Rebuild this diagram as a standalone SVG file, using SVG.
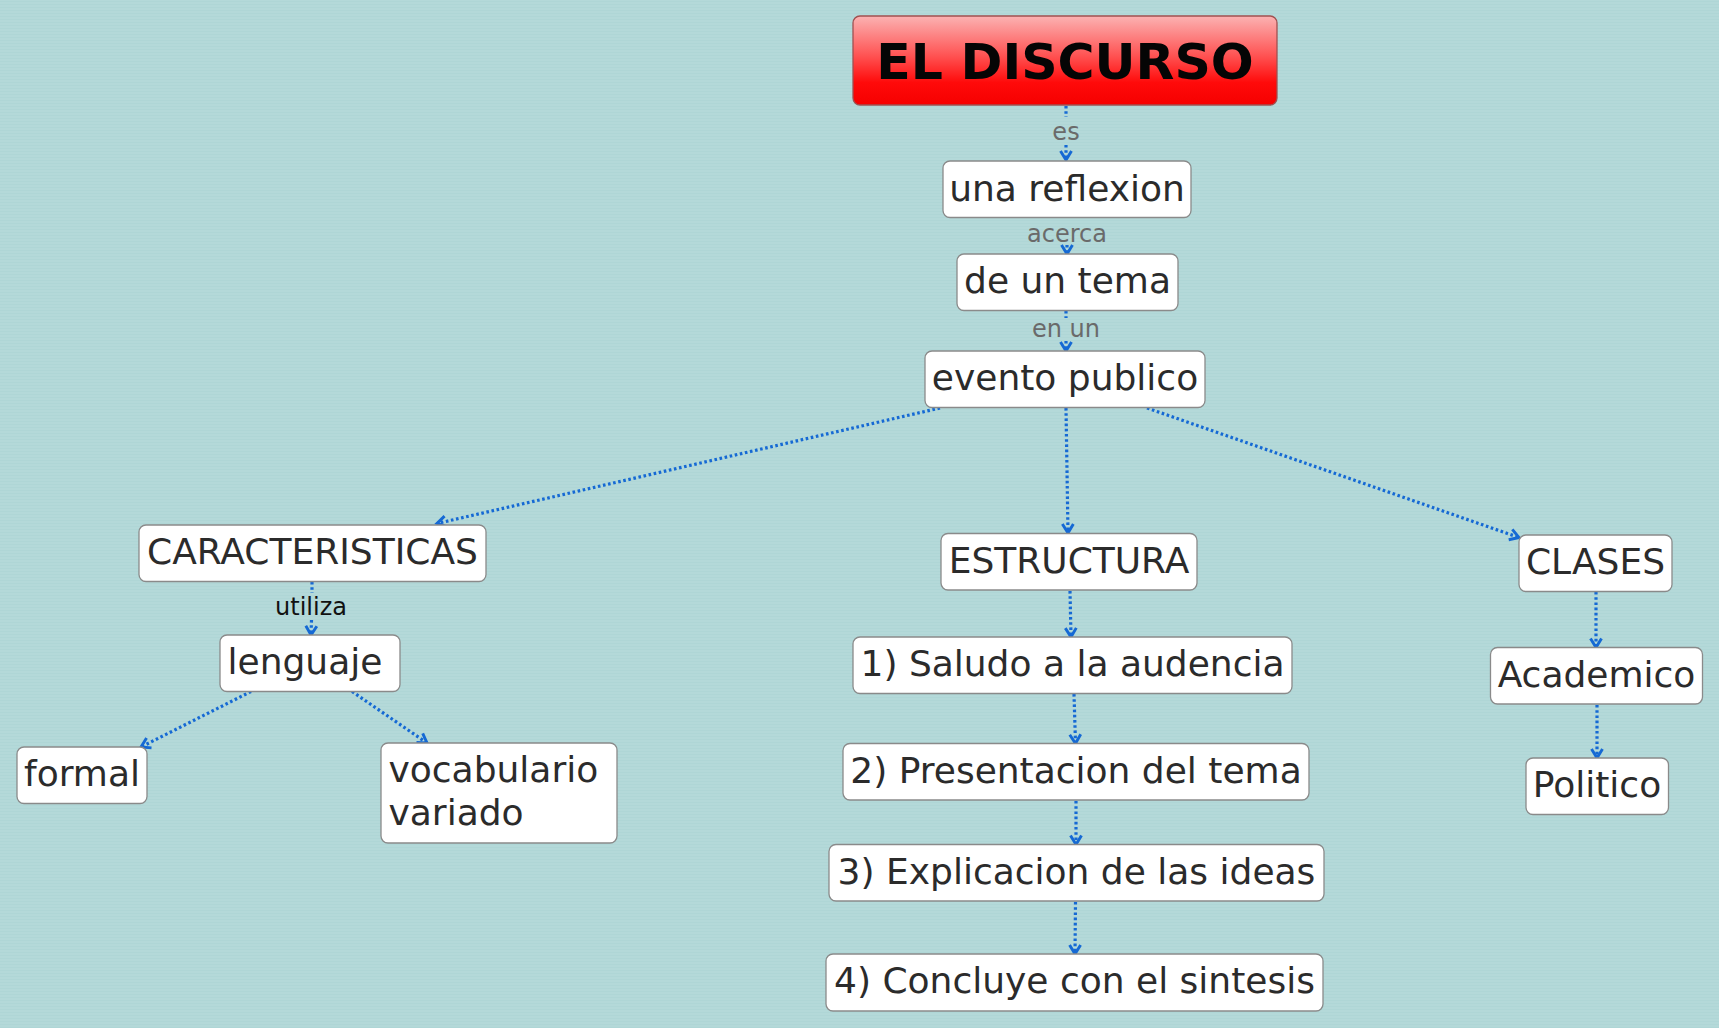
<svg xmlns="http://www.w3.org/2000/svg" width="1719" height="1028" viewBox="0 0 1719 1028">
<defs>
<linearGradient id="red" x1="0" y1="0" x2="0" y2="1">
<stop offset="0" stop-color="#fbb2b2"/>
<stop offset="0.45" stop-color="#ff5252"/>
<stop offset="0.75" stop-color="#ff0a0a"/>
<stop offset="1" stop-color="#f50000"/>
</linearGradient>
<pattern id="tex" width="6" height="3" patternUnits="userSpaceOnUse">
<rect width="6" height="3" fill="#b4d9d9"/>
<rect y="1" width="6" height="1" fill="#acd3d3" opacity="0.6"/>
</pattern>
<marker id="arr" markerUnits="userSpaceOnUse" markerWidth="16" markerHeight="16" viewBox="-12 -8 16 16" refX="0" refY="0" orient="auto">
<path d="M-9,-5.5 L0,0 L-9,5.5" fill="none" stroke="#1569d4" stroke-width="2.9" stroke-linejoin="miter"/>
</marker>
</defs>
<style>
.box{fill:#ffffff;stroke:#8a8a8a;stroke-width:1.3}
.t{font-family:"DejaVu Sans",Verdana,sans-serif;font-size:36px;fill:#2b2b2b}
.c{text-anchor:middle}
.lab{font-family:"DejaVu Sans",Verdana,sans-serif;font-size:24px;fill:#6a6a6a;text-anchor:middle}
.line{fill:none;stroke:#1569d4;stroke-width:3.2;stroke-dasharray:2.6 2.6}
.arr{marker-end:url(#arr)}
</style>
<rect width="1719" height="1028" fill="url(#tex)"/>

<g id="connectors">
<line class="line" x1="1066" y1="106" x2="1066" y2="117"/>
<line class="line arr" x1="1066" y1="145" x2="1066" y2="160"/>
<text class="lab" x="1066" y="139.5">es</text>
<line class="line arr" x1="1067" y1="245" x2="1067" y2="254"/>
<text class="lab" x="1067" y="242">acerca</text>
<line class="line" x1="1066" y1="311" x2="1066" y2="318"/>
<line class="line arr" x1="1066" y1="341" x2="1066" y2="351"/>
<text class="lab" x="1066" y="337">en un</text>
<line class="line arr" x1="940" y1="408" x2="437" y2="523.5"/>
<line class="line arr" x1="1066" y1="408" x2="1068" y2="533"/>
<line class="line arr" x1="1147" y1="408" x2="1519" y2="537.5"/>
<line class="line" x1="312" y1="582" x2="312" y2="593"/>
<line class="line arr" x1="311.5" y1="620" x2="311" y2="635"/>
<text class="lab" x="311" y="615" style="fill:#111">utiliza</text>
<line class="line arr" x1="251" y1="691.5" x2="141" y2="747"/>
<line class="line arr" x1="352" y1="691.5" x2="427" y2="743"/>
<line class="line arr" x1="1070" y1="591" x2="1071" y2="637"/>
<line class="line arr" x1="1074" y1="694" x2="1075.5" y2="743.5"/>
<line class="line arr" x1="1076" y1="801" x2="1076" y2="844.5"/>
<line class="line arr" x1="1075.5" y1="902" x2="1075" y2="954"/>
<line class="line arr" x1="1596" y1="592" x2="1596" y2="647.5"/>
<line class="line arr" x1="1597" y1="705" x2="1597" y2="758"/>
</g>

<g id="n-title">
<rect x="853" y="16" width="424" height="89" rx="7" fill="url(#red)" stroke="#a05050" stroke-width="1.3"/>
<text x="1065" y="79" text-anchor="middle" style="font-family:'DejaVu Sans',Verdana,sans-serif;font-weight:bold;font-size:50.5px;fill:#050505">EL DISCURSO</text>
</g>
<g id="n-reflexion">
<rect class="box" x="943" y="161" width="248" height="56.5" rx="7"/>
<text class="t c" x="1067" y="200.5">una reflexion</text>
</g>
<g id="n-tema">
<rect class="box" x="957" y="254" width="221" height="56.5" rx="7"/>
<text class="t c" x="1067.5" y="293">de un tema</text>
</g>
<g id="n-evento">
<rect class="box" x="925" y="351" width="280" height="56.5" rx="7"/>
<text class="t c" x="1065" y="390">evento publico</text>
</g>
<g id="n-caracteristicas">
<rect class="box" x="139" y="525" width="347" height="56.5" rx="7"/>
<text class="t c" x="312.5" y="564">CARACTERISTICAS</text>
</g>
<g id="n-lenguaje">
<rect class="box" x="220" y="635" width="180" height="56.5" rx="7"/>
<text class="t" x="227.5" y="674">lenguaje</text>
</g>
<g id="n-formal">
<rect class="box" x="17" y="747" width="130" height="56.5" rx="7"/>
<text class="t c" x="82" y="786">formal</text>
</g>
<g id="n-vocabulario">
<rect class="box" x="381" y="743" width="236" height="100" rx="7"/>
<text class="t" x="388.5" y="782">vocabulario</text>
<text class="t" x="388.5" y="825">variado</text>
</g>
<g id="n-estructura">
<rect class="box" x="941" y="533.5" width="256" height="56.5" rx="7"/>
<text class="t c" x="1069" y="572.5">ESTRUCTURA</text>
</g>
<g id="n-clases">
<rect class="box" x="1519" y="535" width="153" height="56.5" rx="7"/>
<text class="t c" x="1595.5" y="574">CLASES</text>
</g>
<g id="n-saludo">
<rect class="box" x="853" y="637" width="439" height="56.5" rx="7"/>
<text class="t c" x="1072.5" y="676">1) Saludo a la audencia</text>
</g>
<g id="n-presentacion">
<rect class="box" x="843" y="743.5" width="466" height="56.5" rx="7"/>
<text class="t c" x="1076" y="782.5">2) Presentacion del tema</text>
</g>
<g id="n-explicacion">
<rect class="box" x="829" y="844.5" width="495" height="56.5" rx="7"/>
<text class="t c" x="1076.5" y="883.5">3) Explicacion de las ideas</text>
</g>
<g id="n-concluye">
<rect class="box" x="826" y="954" width="497" height="57" rx="7"/>
<text class="t c" x="1074.5" y="993">4) Concluye con el sintesis</text>
</g>
<g id="n-academico">
<rect class="box" x="1490.5" y="647.5" width="212" height="56.5" rx="7"/>
<text class="t c" x="1596.5" y="686.5">Academico</text>
</g>
<g id="n-politico">
<rect class="box" x="1526" y="758" width="142.5" height="56.5" rx="7"/>
<text class="t c" x="1597" y="797">Politico</text>
</g>
</svg>
